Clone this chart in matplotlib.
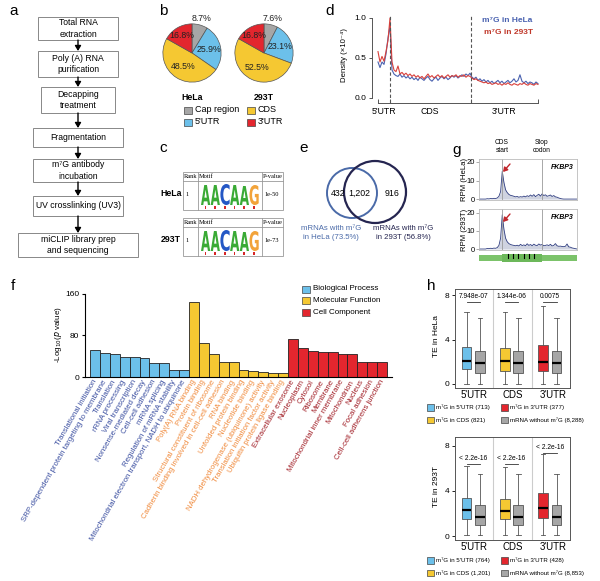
import numpy as np
import matplotlib
matplotlib.use('Agg')
import matplotlib.pyplot as plt
from matplotlib.patches import Rectangle, Circle, PathPatch
from matplotlib.textpath import TextPath
from matplotlib.font_manager import FontProperties
from matplotlib.transforms import Affine2D

plt.rcParams['font.family'] = ['Liberation Sans', 'DejaVu Sans']

W, H = 600, 581

# ---- data ----
steps = ["Total RNA\nextraction", "Poly (A) RNA\npurification", "Decapping\ntreatment",
         "Fragmentation", "m\u2077G antibody\nincubation", "UV crosslinking (UV3)",
         "miCLIP library prep\nand sequencing"]

pie_regions = ["Cap region", "5'UTR", "CDS", "3'UTR"]
hela_pct = [8.7, 25.9, 48.5, 16.8]
t293_pct = [7.6, 23.1, 52.5, 16.8]

motif = "AACAAG"
motif_pvals = ["1e-50", "1e-73"]

hela_density = [0.45, 0.38, 0.45, 0.42, 0.55, 0.75, 0.90, 0.35, 0.30, 0.28, 0.27, 0.30, 0.26,
                0.28, 0.25, 0.27, 0.24, 0.26, 0.23, 0.25, 0.22, 0.26, 0.24, 0.22, 0.25, 0.27,
                0.23, 0.21, 0.24, 0.26, 0.22, 0.25, 0.27, 0.24, 0.26, 0.23, 0.25, 0.28, 0.26,
                0.28, 0.25, 0.27, 0.29, 0.27, 0.30, 0.28, 0.31, 0.26, 0.24, 0.26, 0.22, 0.24,
                0.21, 0.23, 0.20, 0.22, 0.19, 0.21, 0.18, 0.20, 0.22, 0.19, 0.21, 0.18, 0.20,
                0.22, 0.19, 0.21, 0.24, 0.20, 0.22, 0.29, 0.21, 0.19, 0.21, 0.18, 0.20, 0.19,
                0.17, 0.20, 0.18]
t293_density = [0.58, 0.45, 0.52, 0.46, 0.58, 0.72, 1.00, 0.45, 0.35, 0.33, 0.40, 0.30, 0.32,
                0.29, 0.31, 0.28, 0.30, 0.27, 0.29, 0.26, 0.28, 0.25, 0.27, 0.24, 0.27, 0.30,
                0.26, 0.28, 0.25, 0.27, 0.29, 0.26, 0.28, 0.25, 0.27, 0.29, 0.26, 0.28, 0.27,
                0.29, 0.26, 0.28, 0.27, 0.29, 0.26, 0.28, 0.27, 0.25, 0.23, 0.24, 0.22, 0.21,
                0.20, 0.19, 0.20, 0.18, 0.19, 0.17, 0.18, 0.19, 0.17, 0.18, 0.16, 0.18, 0.17,
                0.19, 0.17, 0.16, 0.18, 0.17, 0.16, 0.18, 0.17, 0.19, 0.17, 0.16, 0.18, 0.17,
                0.16, 0.18, 0.17]
region_bounds = [0, 7.3, 57.9, 100]
region_names = ["5'UTR", "CDS", "3'UTR"]

venn_counts = [432, 1202, 916]

hela_cov = [0, 0, 0, 0, 0, 0.2, 0.1, 0.3, 0.2, 0.4, 0.3, 0.6, 1.5, 4, 15, 9, 5, 3.5, 2.5, 2,
            1.8, 1.5, 1.2, 1.4, 1.0, 1.3, 1.1, 1.6, 1.2, 1.8, 1.4, 2.2, 1.5, 2.4, 1.3, 2.0, 2.6,
            1.6, 2.8, 1.9, 2.3, 1.5, 1.8, 2.2, 1.4, 1.9, 1.2, 1.0, 0.6, 0.3, 0.1, 0, 0, 0, 0, 0,
            0, 0, 0, 0]
t293_cov = [0, 0, 0, 0, 0, 0.3, 0.2, 0.4, 0.3, 0.5, 0.4, 0.8, 2, 6, 19, 11, 6, 4, 3, 2.5,
            2.2, 2.0, 1.8, 2.1, 1.7, 2.6, 1.9, 2.3, 1.8, 2.9, 2.0, 2.5, 1.8, 2.7, 2.1, 1.9, 2.8,
            2.2, 2.5, 1.8, 2.0, 2.3, 1.9, 2.6, 1.7, 2.0, 3.0, 1.8, 1.5, 1.6, 1.4, 1.3, 1.5, 2.8,
            1.2, 1.0, 0.6, 0.4, 0.2, 0]
cds_start, stop_codon = 23.5, 64

bp_terms = ["Translational initiation", "SRP-dependent protein targeting to membrane",
            "Translation", "rRNA processing", "Viral transcription", "Nonsense-mediated decay",
            "Cell-cell adhesion", "mRNA splicing", "Regulation of mRNA stability",
            "Mitochondrial electron transport, NADH to ubiquinone"]
bp_vals = [52, 46, 44, 38, 38, 36.5, 27, 27, 14, 13]
mf_terms = ["Poly(A) RNA binding", "Protein binding", "Structural constituent of ribosome",
            "Cadherin binding involved in cell-cell adhesion", "RNA binding",
            "Unfolded protein binding", "Nucleotide binding",
            "NADH dehydrogenase (ubiquinone) activity", "Translation initiation factor activity",
            "Ubiquitin protein ligase binding"]
mf_vals = [144, 65, 45, 29.5, 29.5, 14, 11.5, 9.6, 7.7, 7]
cc_terms = ["Extracellular exosome", "Nucleoplasm", "Cytosol", "Ribosome", "Membrane",
            "Mitochondrial inner membrane", "Mitochondrion", "Nucleus", "Focal adhesion",
            "Cell-cell adherens junction"]
cc_vals = [73, 55, 50, 48, 48, 45, 44, 29, 28.5, 28.5]

# TE boxes: 5'UTR, none, CDS, none, 3'UTR, none
hela_lo = [0, 0, 0, 0, 0, 0]
hela_q1 = [1.32, 0.96, 1.2, 0.96, 1.17, 0.96]
hela_med = [2.1, 1.86, 2.07, 1.86, 2.0, 1.86]
hela_q3 = [3.36, 2.97, 3.27, 2.97, 3.5, 2.97]
hela_hi = [6.5, 5.97, 6.5, 5.97, 7.0, 5.97]
hela_p = ["7.948e-07", "1.344e-06", "0.0075"]
t293_lo = [0.1, 0.1, 0.1, 0.1, 0.1, 0.1]
t293_q1 = [1.48, 0.97, 1.48, 0.97, 1.57, 0.97]
t293_med = [2.3, 1.65, 2.24, 1.65, 2.45, 1.65]
t293_q3 = [3.4, 2.74, 3.3, 2.74, 3.83, 2.74]
t293_hi = [6.2, 5.5, 6.1, 5.5, 7.26, 5.5]
t293_p = ["< 2.2e-16", "< 2.2e-16", "< 2.2e-16"]
hela_legend = ["m\u2077G in 5'UTR (713)", "m\u2077G in 3'UTR (377)",
               "m\u2077G in CDS (821)", "mRNA without m\u2077G (8,288)"]
t293_legend = ["m\u2077G in 5'UTR (764)", "m\u2077G in 3'UTR (428)",
               "m\u2077G in CDS (1,201)", "mRNA without m\u2077G (8,853)"]

C_GRAY, C_BLUE, C_YEL, C_RED = '#a6a6a6', '#6cc0ea', '#f5c832', '#e3262e'

fig = plt.figure(figsize=(6, 5.81), dpi=100)


def add_px(x0, y0, x1, y1):
    ax = fig.add_axes([x0 / W, 1 - y1 / H, (x1 - x0) / W, (y1 - y0) / H])
    ax.patch.set_alpha(0)
    return ax


ov = fig.add_axes([0, 0, 1, 1])
ov.set_xlim(0, W)
ov.set_ylim(H, 0)
ov.axis('off')
ov.set_zorder(5)

# panel letters
for lab, x, y in [('a', 14, 11), ('b', 163, 11), ('c', 163, 148), ('d', 330, 11),
                  ('e', 304, 148), ('g', 457, 150), ('f', 13, 286), ('h', 431, 286)]:
    ov.text(x, y, lab, fontsize=11, ha='center', va='center')

# ---- a: flowchart ----
boxes = [(38, 17, 118, 40), (38, 51, 118, 77), (41, 87, 115, 113), (33, 128, 123, 147),
         (33, 159, 123, 182), (33, 196, 123, 216), (18, 233, 138, 257)]
for (x0, y0, x1, y1), s in zip(boxes, steps):
    ov.add_patch(Rectangle((x0, y0), x1 - x0, y1 - y0, fc='white', ec='#888888', lw=0.7))
    ov.text((x0 + x1) / 2, (y0 + y1) / 2, s, ha='center', va='center', fontsize=6.2,
            linespacing=1.35)
for b0, b1 in zip(boxes[:-1], boxes[1:]):
    ov.annotate('', xy=(78, b1[1]), xytext=(78, b0[3]),
                arrowprops=dict(arrowstyle='-|>,head_width=0.18,head_length=0.3',
                                color='black', lw=1.0, shrinkA=0, shrinkB=0))

# ---- b: pies ----
pie_r = [1.22, 0.6, 0.55, 0.68]
for cx, vals, name in [(192, hela_pct, 'HeLa'), (264, t293_pct, '293T')]:
    ax = add_px(cx - 30, 23, cx + 30, 83)
    ax.pie(vals, colors=[C_GRAY, C_BLUE, C_YEL, C_RED], startangle=90, counterclock=False,
           wedgeprops=dict(edgecolor='#555555', linewidth=0.5))
    ax.set_xlim(-1.03, 1.03)
    ax.set_ylim(-1.03, 1.03)
    start = 90.0
    for v, r in zip(vals, pie_r):
        span = 360.0 * v / sum(vals)
        mid = np.deg2rad(start - span / 2)
        ax.text(r * np.cos(mid), r * np.sin(mid), f"{v}%", ha='center', va='center',
                fontsize=6.3, color='#222222')
        start -= span
    ov.text(cx, 97, name, ha='center', va='center', fontsize=6.3, fontweight='bold')
for i, (name, col) in enumerate(zip(pie_regions, [C_GRAY, C_BLUE, C_YEL, C_RED])):
    x = 184 if i in (0, 1) else 247
    y = 110 if i in (0, 2) else 122
    ov.add_patch(Rectangle((x, y - 3.5), 8, 7, fc=col, ec='#444444', lw=0.5))
    ov.text(x + 11, y, name, ha='left', va='center', fontsize=6.5)

# ---- c: motif tables ----
glyph_cols = {'A': '#3aaa35', 'C': '#2457c5', 'G': '#f2a33a'}
glyph_h = [20, 20, 21, 20, 19, 20]
gprop = FontProperties(family='DejaVu Sans', weight='bold')


def glyph(ch, x, yb, w, h, color):
    tp = TextPath((0, 0), ch, size=1, prop=gprop)
    bb = tp.get_extents()
    tr = Affine2D().translate(-bb.x0, -bb.y0).scale(w / bb.width, -h / bb.height).translate(x, yb)
    ov.add_patch(PathPatch(tr.transform_path(tp), fc=color, ec='none'))


for y0, cell, pv in [(172, 'HeLa', motif_pvals[0]), (218, '293T', motif_pvals[1])]:
    y1 = y0 + 38
    ov.add_patch(Rectangle((183, y0), 100, 38, fc='none', ec='#999999', lw=0.6))
    ov.plot([183, 283], [y0 + 9, y0 + 9], color='#999999', lw=0.6)
    for xc in (198, 262):
        ov.plot([xc, xc], [y0, y1], color='#999999', lw=0.6)
    for x, t in [(184, 'Rank'), (199, 'Motif'), (263, 'P-value')]:
        ov.text(x, y0 + 4.8, t, ha='left', va='center', fontsize=4.6, family='Liberation Serif')
    ov.text(185, y0 + 23, '1', ha='left', va='center', fontsize=4.6, family='Liberation Serif')
    ov.text(264, y0 + 23, pv, ha='left', va='center', fontsize=4.6, family='Liberation Serif')
    for k, ch in enumerate(motif):
        glyph(ch, 201 + k * 9.7, y0 + 33, 9.2, glyph_h[k], glyph_cols[ch])
        glyph('T', 202.5 + k * 9.7, y0 + 36.5, 6, 3, '#d62728')
    ov.text(171, y0 + 21, cell, ha='center', va='center', fontsize=6.3, fontweight='bold')

# ---- d: density ----
axd = add_px(372, 15, 545, 104)
xd = np.linspace(0, 100, len(hela_density))
axd.plot(xd, hela_density, color='#4a62b0', lw=0.8)
axd.plot(xd, t293_density, color='#d9403a', lw=0.8)
axd.set_xlim(-3.75, 104.4)
axd.set_ylim(-0.075, 1.0375)
axd.spines[['top', 'right']].set_visible(False)
axd.spines['left'].set_bounds(0, 1)
axd.spines['bottom'].set_position(('data', -0.0625))
axd.spines['bottom'].set_bounds(0, 100)
for sp in axd.spines.values():
    sp.set_linewidth(0.7)
    sp.set_color('#555555')
axd.set_yticks([0, 0.5, 1.0], ['0.0', '0.5', '1.0'])
axd.set_xticks(region_bounds, [''] * 4)
axd.tick_params(axis='x', direction='in', length=3, width=0.7, color='#555555')
axd.tick_params(axis='y', length=2.5, width=0.7, labelsize=6, pad=1.5, color='#555555')
axd.vlines(region_bounds[1:3], -0.06, 1.03, colors='#555555', linestyles=(0, (3, 2)), lw=0.8)
for i, name in enumerate(region_names):
    axd.text((region_bounds[i] + region_bounds[i + 1]) / 2, -0.17, name, ha='center',
             va='center', fontsize=6.3)
ov.text(345, 55, 'Density (\u00d710\u207b\u2074)', rotation=90, ha='center', va='center',
        fontsize=5.6)
ov.text(507, 20, 'm\u2077G in HeLa', color='#4a62b0', fontsize=6, fontweight='bold',
        ha='center', va='center')
ov.text(509, 33, 'm\u2077G in 293T', color='#c0392b', fontsize=6, fontweight='bold',
        ha='center', va='center')

# ---- e: venn ----
ov.add_patch(Circle((352, 193), 25, fc='none', ec='#4a6aa8', lw=1.4))
ov.add_patch(Circle((375, 192), 31, fc='none', ec='#252550', lw=1.6))
for x, n in zip([338, 359, 392], venn_counts):
    ov.text(x, 193, f"{n:,}", ha='center', va='center', fontsize=6.3)
ov.text(331, 233, 'mRNAs with m\u2077G\nin HeLa (73.5%)', ha='center', va='center',
        fontsize=5.6, color='#4a6aa8', linespacing=1.3)
ov.text(403, 233, 'mRNAs with m\u2077G\nin 293T (56.8%)', ha='center', va='center',
        fontsize=5.6, color='#252550', linespacing=1.3)

# ---- g: coverage ----
for cov, (y0, y1), ylim, lab in [(hela_cov, (159, 200), (-0.5, 21.6), 'RPM (HeLa)'),
                                 (t293_cov, (209, 250), (-0.55, 22.2), 'RPM (293T)')]:
    ax = add_px(479, y0, 577, y1)
    xg = np.linspace(0, 100, len(cov))
    ax.fill_between(xg, 0, cov, color='#cfd3e0', lw=0)
    ax.plot(xg, cov, color='#2f3d80', lw=0.6)
    ax.axvline(cds_start, color='#9a9a9a', lw=0.6)
    ax.axvline(stop_codon, color='#9a9a9a', lw=0.6)
    ax.set_xlim(0, 100)
    ax.set_ylim(*ylim)
    ax.set_xticks([])
    ax.set_yticks([0, 10, 20])
    ax.tick_params(axis='y', length=2, width=0.5, labelsize=5.5, pad=1, color='#888888')
    for sp in ax.spines.values():
        sp.set_color('#bbbbbb')
        sp.set_linewidth(0.6)
    ax.text(97, ylim[1] * 0.78, 'FKBP3', ha='right', va='center', fontsize=5,
            fontweight='bold', fontstyle='italic')
    ov.text(464, (y0 + y1) / 2, lab, rotation=90, ha='center', va='center', fontsize=5.6)
    ov.annotate('', xy=(503, y0 + 13), xytext=(510, y0 + 5),
                arrowprops=dict(arrowstyle='-|>,head_width=0.15,head_length=0.25',
                                color='#c0262c', lw=1.0, shrinkA=0, shrinkB=0))
ov.text(502, 147, 'CDS\nstart', ha='center', va='center', fontsize=4.8, linespacing=1.2)
ov.text(542, 147, 'Stop\ncodon', ha='center', va='center', fontsize=4.8, linespacing=1.2)
ov.add_patch(Rectangle((479, 254.5), 98, 6, fc='#7cc36a', ec='none'))
ov.add_patch(Rectangle((502, 253.5), 40, 8, fc='#6cb85a', ec='none'))
for xt in [508, 513, 518, 524, 529, 534]:
    ov.plot([xt, xt], [254, 258], color='black', lw=0.8)

# ---- f: GO enrichment ----
axf = add_px(85, 290, 392, 377)
nb, nm, nc = len(bp_vals), len(mf_vals), len(cc_vals)
axf.bar(np.arange(nb), bp_vals, width=1, color=C_BLUE, edgecolor='#222222', lw=0.6)
axf.bar(np.arange(nb, nb + nm), mf_vals, width=1, color=C_YEL, edgecolor='#222222', lw=0.6)
axf.bar(np.arange(nb + nm, nb + nm + nc), cc_vals, width=1, color=C_RED, edgecolor='#222222',
        lw=0.6)
axf.set_xlim(-1.005, 30.0)
axf.set_ylim(0, 167.7)
axf.spines[['top', 'right']].set_visible(False)
axf.spines['left'].set_bounds(0, 160)
for sp in axf.spines.values():
    sp.set_linewidth(0.8)
axf.set_yticks([0, 80, 160])
axf.tick_params(axis='y', length=2.5, width=0.8, labelsize=6, pad=1.5)
terms = bp_terms + mf_terms + cc_terms
term_cols = ['#3a4ea0'] * nb + ['#f08a3c'] * nm + ['#a01c24'] * nc
axf.set_xticks(np.arange(len(terms)))
axf.set_xticklabels(terms, rotation=60, ha='right', va='center', rotation_mode='anchor',
                    fontsize=5.6)
for tl, c in zip(axf.get_xticklabels(), term_cols):
    tl.set_color(c)
axf.tick_params(axis='x', length=0, pad=2.5)
ov.text(58, 335, r'-Log$_{10}$($\it{p}$ value)', rotation=90, ha='center', va='center',
        fontsize=5.8)
for k, (name, col) in enumerate(zip(['Biological Process', 'Molecular Function',
                                     'Cell Component'], [C_BLUE, C_YEL, C_RED])):
    y = 289 + k * 11.5
    ov.add_patch(Rectangle((302, y - 3.5), 8, 7, fc=col, ec='#444444', lw=0.5))
    ov.text(313, y, name, ha='left', va='center', fontsize=5.8)

# ---- h: TE boxplots ----
box_pos = [0.3, 0.65, 1.3, 1.65, 2.3, 2.65]
box_cols = [C_BLUE, C_GRAY, C_YEL, C_GRAY, C_RED, C_GRAY]
for (y0, y1), ylim, lo, q1, med, q3, hi, pv, pvy, lab, leg, ly in [
        ((289, 388), (-0.36, 8.54), hela_lo, hela_q1, hela_med, hela_q3, hela_hi, hela_p,
         [7.85, 7.85, 7.85], 'TE in HeLa', hela_legend, 407),
        ((437, 540), (-0.354, 8.77), t293_lo, t293_q1, t293_med, t293_q3, t293_hi, t293_p,
         [6.9, 6.9, 7.87], 'TE in 293T', t293_legend, 560)]:
    ax = add_px(455, y0, 570, y1)
    stats = [dict(whislo=a, q1=b, med=c, q3=d, whishi=e) for a, b, c, d, e in
             zip(lo, q1, med, q3, hi)]
    bp = ax.bxp(stats, positions=box_pos, widths=0.25, showfliers=False, patch_artist=True,
                boxprops=dict(lw=0.6, edgecolor='#555555'),
                whiskerprops=dict(lw=0.6, color='#555555'),
                capprops=dict(lw=0.6, color='#555555'),
                medianprops=dict(lw=1.6, color='black'))
    for patch, c in zip(bp['boxes'], box_cols):
        patch.set_facecolor(c)
    for cap in bp['caps']:
        xs = cap.get_xdata()
        m = xs.mean()
        cap.set_xdata([m - 0.06, m + 0.06])
    ax.axvline(1, color='#cccccc', lw=0.8)
    ax.axvline(2, color='#cccccc', lw=0.8)
    for g in range(3):
        ax.text(g + 0.475, pvy[g], pv[g], ha='center', va='center', fontsize=4.8)
        ax.plot([g + 0.3, g + 0.65], [pvy[g] - 0.5, pvy[g] - 0.5], color='#333333', lw=0.6)
    ax.set_xlim(0, 3)
    ax.set_ylim(*ylim)
    ax.set_yticks([0, 4, 8])
    ax.set_xticks([0.5, 1.5, 2.55], region_names)
    ax.tick_params(axis='y', length=2.5, width=0.6, labelsize=6, pad=1.5)
    ax.tick_params(axis='x', length=0, labelsize=7, pad=1.5)
    for sp in ax.spines.values():
        sp.set_linewidth(0.7)
        sp.set_color('#555555')
    ov.text(437, (y0 + y1) / 2 - 2, lab, rotation=90, ha='center', va='center', fontsize=6)
    for k, (t, c) in enumerate(zip(leg, [C_BLUE, C_RED, C_YEL, C_GRAY])):
        x = 427 if k in (0, 2) else 501
        y = ly if k in (0, 1) else ly + 12.5
        ov.add_patch(Rectangle((x, y - 3), 6.5, 6.5, fc=c, ec='#444444', lw=0.5))
        ov.text(x + 9.5, y + 0.2, t, ha='left', va='center', fontsize=4.4)

fig.savefig('out.png', dpi=100)
